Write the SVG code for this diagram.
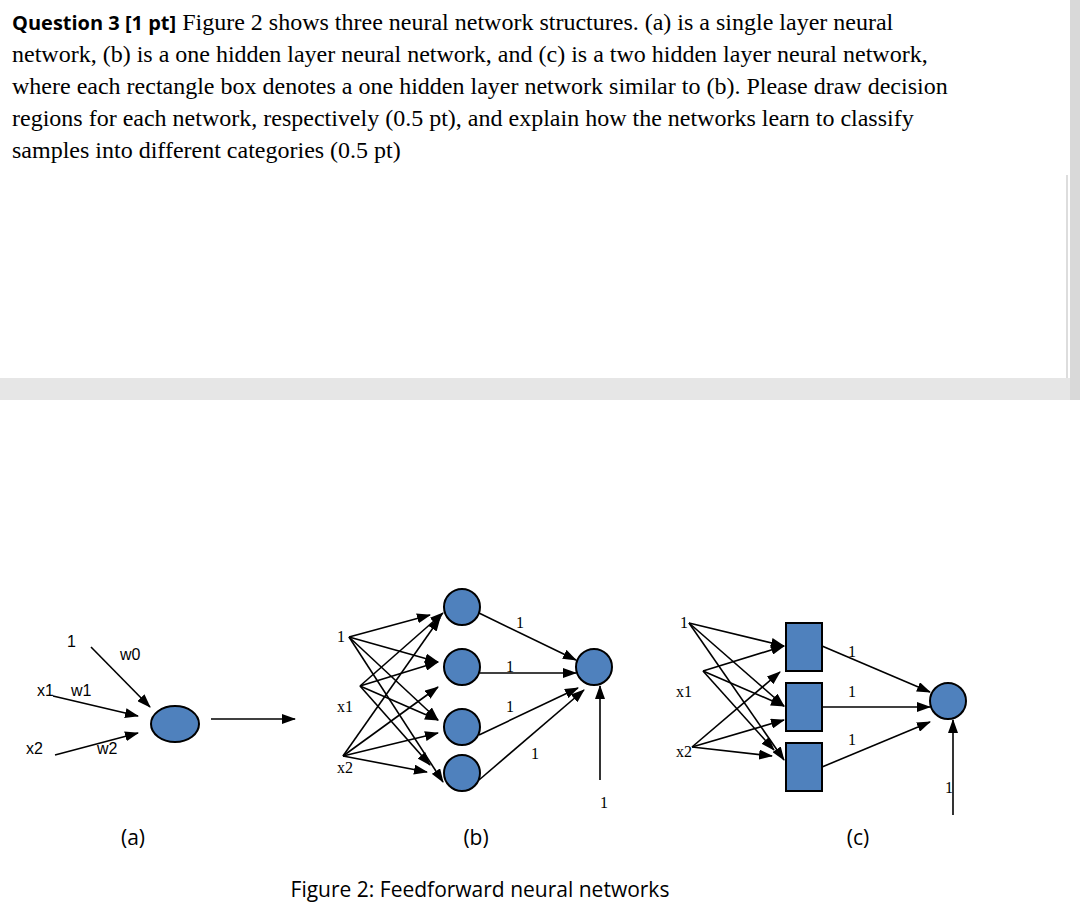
<svg xmlns="http://www.w3.org/2000/svg" width="1080" height="924" viewBox="0 0 1080 924">
<defs>
<marker id="ah" markerWidth="14" markerHeight="10" refX="13" refY="5" orient="auto" markerUnits="userSpaceOnUse"><path d="M0,0 L14,5 L0,10 Z" fill="#000"/></marker>
<style>
.e{stroke:#000;stroke-width:1.6;fill:none;marker-end:url(#ah)}
.n{fill:#4F81BD;stroke:#000;stroke-width:2}
.a{font-family:"Liberation Sans",Arial,sans-serif;font-size:16px}
.t{font-family:"Liberation Serif","Times New Roman",serif;font-size:16px}
.c{font-family:"Open Sans","Noto Sans",sans-serif;font-size:21px}
.q{font-family:"Liberation Serif","Times New Roman",serif;font-size:24px}
</style>
</defs>
<rect width="1080" height="924" fill="#fff"/>
<rect x="0" y="378" width="1072" height="22" fill="#e6e6e6"/>
<rect x="1070" y="0" width="10" height="400" fill="#d9d9d9"/>
<line x1="1067" y1="175" x2="1067" y2="378" stroke="#bbb"/>
<g class="q">
<text x="12" y="30"><tspan font-family="'Open Sans','Noto Sans',sans-serif" font-weight="bold" font-size="20">Question 3 [1 pt]</tspan> Figure 2 shows three neural network structures. (a) is a single layer neural</text>
<text x="12" y="62">network, (b) is a one hidden layer neural network, and (c) is a two hidden layer neural network,</text>
<text x="12" y="94">where each rectangle box denotes a one hidden layer network similar to (b). Please draw decision</text>
<text x="12" y="126">regions for each network, respectively (0.5 pt), and explain how the networks learn to classify</text>
<text x="12" y="158">samples into different categories (0.5 pt)</text>
</g>
<g id="connectors">
<line class="e" x1="91" y1="647" x2="150" y2="707"/>
<line class="e" x1="53" y1="696" x2="138" y2="716"/>
<line class="e" x1="55" y1="755" x2="138" y2="733"/>
<line class="e" x1="211" y1="719" x2="295" y2="719"/>
<line class="e" x1="349" y1="637" x2="430" y2="615"/>
<line class="e" x1="349" y1="637" x2="438" y2="662"/>
<line class="e" x1="349" y1="637" x2="438" y2="720"/>
<line class="e" x1="349" y1="637" x2="443" y2="782"/>
<line class="e" x1="360" y1="686" x2="443" y2="613"/>
<line class="e" x1="360" y1="686" x2="438" y2="662"/>
<line class="e" x1="360" y1="686" x2="438" y2="720"/>
<line class="e" x1="360" y1="686" x2="430" y2="765"/>
<line class="e" x1="343" y1="756" x2="440" y2="618"/>
<line class="e" x1="343" y1="756" x2="438" y2="687"/>
<line class="e" x1="343" y1="756" x2="438" y2="733"/>
<line class="e" x1="343" y1="756" x2="427" y2="772"/>
<line class="e" x1="479" y1="613" x2="576" y2="660"/>
<line class="e" x1="480" y1="673" x2="576" y2="673"/>
<line class="e" x1="479" y1="735" x2="578" y2="688"/>
<line class="e" x1="479" y1="780" x2="584" y2="690"/>
<line class="e" x1="600" y1="780" x2="600" y2="686"/>
<line class="e" x1="689" y1="623" x2="784" y2="646"/>
<line class="e" x1="689" y1="623" x2="784" y2="706"/>
<line class="e" x1="689" y1="623" x2="784" y2="760"/>
<line class="e" x1="703" y1="671" x2="784" y2="646"/>
<line class="e" x1="703" y1="671" x2="784" y2="706"/>
<line class="e" x1="703" y1="671" x2="774" y2="750"/>
<line class="e" x1="692" y1="747" x2="780" y2="672"/>
<line class="e" x1="692" y1="747" x2="784" y2="720"/>
<line class="e" x1="692" y1="747" x2="772" y2="756"/>
<line class="e" x1="822" y1="646" x2="930" y2="692"/>
<line class="e" x1="822" y1="707" x2="930" y2="707"/>
<line class="e" x1="822" y1="767" x2="930" y2="722"/>
<line class="e" x1="953" y1="815" x2="953" y2="720"/>
</g>
<g id="node-a"><ellipse class="n" cx="175" cy="724" rx="24" ry="18"/></g>
<g id="node-b-h1"><circle class="n" cx="462" cy="607" r="18"/></g>
<g id="node-b-h2"><circle class="n" cx="462" cy="667" r="18"/></g>
<g id="node-b-h3"><circle class="n" cx="462" cy="727" r="18"/></g>
<g id="node-b-h4"><circle class="n" cx="462" cy="773" r="18"/></g>
<g id="node-b-out"><circle class="n" cx="594" cy="667" r="18"/></g>
<g id="node-c-r1"><rect class="n" x="786" y="623" width="36" height="48"/></g>
<g id="node-c-r2"><rect class="n" x="786" y="683" width="36" height="48"/></g>
<g id="node-c-r3"><rect class="n" x="786" y="743" width="36" height="48"/></g>
<g id="node-c-out"><circle class="n" cx="948" cy="701" r="18"/></g>
<g class="a">
<text x="67" y="647">1</text><text x="120" y="660">w0</text>
<text x="37" y="696">x1</text><text x="71" y="696">w1</text>
<text x="26" y="754">x2</text><text x="97" y="754">w2</text>
</g>
<g class="t">
<text x="337" y="642">1</text><text x="337" y="712">x1</text><text x="337" y="773">x2</text>
<text x="516" y="628">1</text><text x="506" y="672">1</text><text x="506" y="712">1</text><text x="531" y="759">1</text>
<text x="600" y="808">1</text>
<text x="680" y="628">1</text><text x="676" y="697">x1</text><text x="676" y="757">x2</text>
<text x="848" y="657">1</text><text x="848" y="697">1</text><text x="848" y="745">1</text>
<text x="945" y="793">1</text>
</g>
<g class="c">
<text x="133" y="845" text-anchor="middle">(a)</text>
<text x="476" y="845" text-anchor="middle">(b)</text>
<text x="858" y="845" text-anchor="middle">(c)</text>
<text x="480" y="897" text-anchor="middle">Figure 2: Feedforward neural networks</text>
</g>
</svg>
